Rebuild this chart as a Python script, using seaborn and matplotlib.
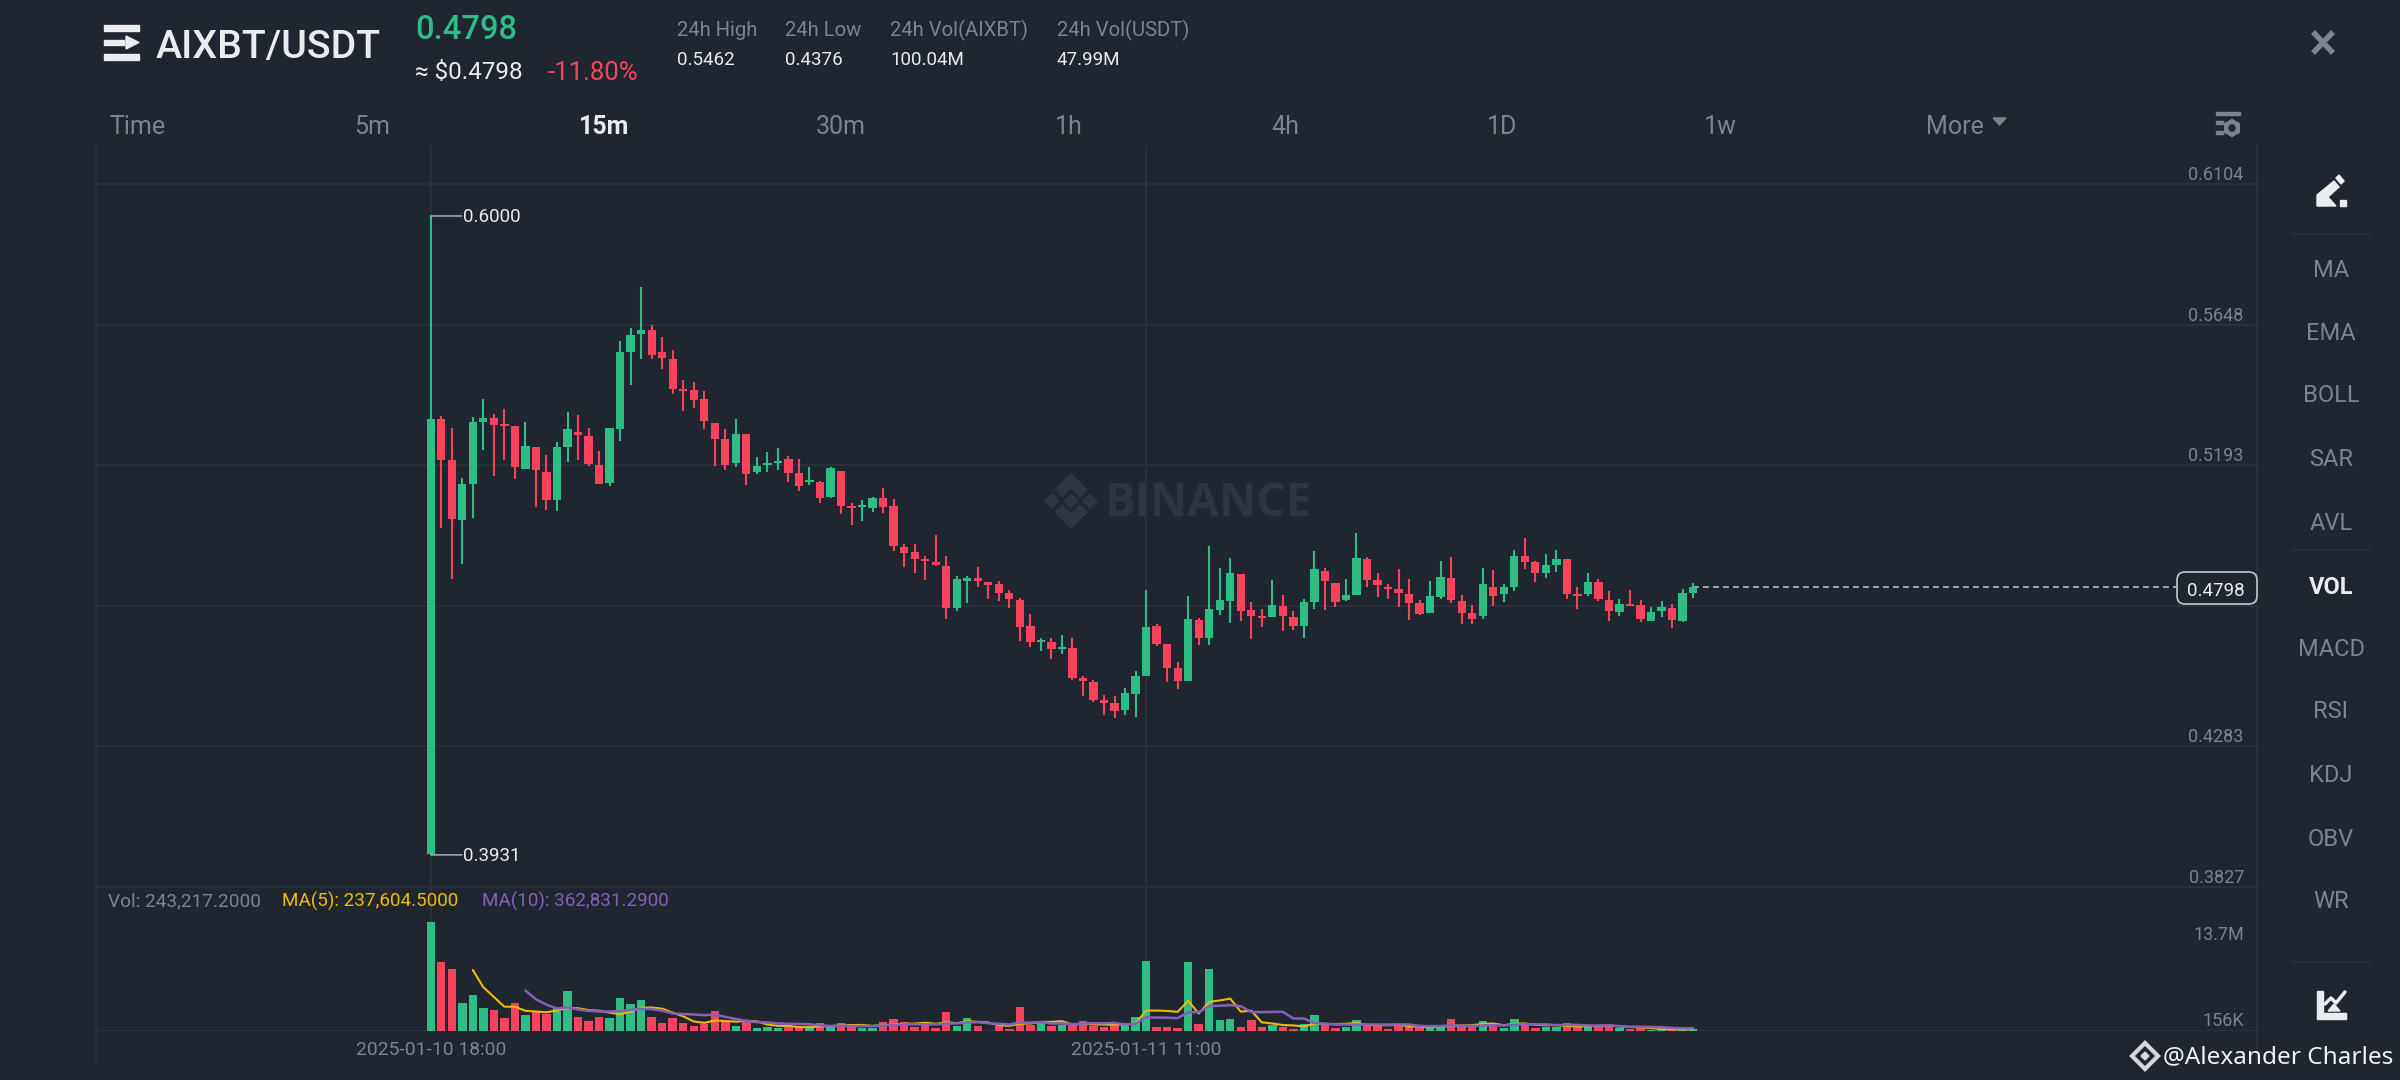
import numpy as np
import matplotlib
matplotlib.use("Agg")
import matplotlib.pyplot as plt
from matplotlib.patches import Rectangle, Polygon, RegularPolygon, FancyBboxPatch, Circle
import seaborn as sns

# candles
opens = [.3935,.5344,.5210,.5017,.5132,.5334,.5345,.5325,.5319,.5181,.5251,.5171,.5081,.5252,.5301,.5288,.5195,.5134,.5310,.5558,
         .5619,.5632,.5558,.5536,.5439,.5435,.5406,.5331,.5277,.5201,.5295,.5170,.5195,.5199,.5212,.5168,.5138,.5139,.5090,.5174,
         .5061,.5059,.5054,.5086,.5060,.4928,.4912,.4888,.4880,.4866,.4731,.4817,.4827,.4814,.4808,.4778,.4758,.4673,.4622,.4619,
         .4597,.4600,.4504,.4490,.4431,.4424,.4401,.4453,.4511,.4672,.4613,.4536,.4494,.4691,.4634,.4724,.4754,.4841,.4723,.4704,
         .4701,.4738,.4702,.4673,.4749,.4851,.4811,.4756,.4773,.4890,.4820,.4798,.4792,.4776,.4747,.4715,.4767,.4829,.4754,.4715,
         .4704,.4800,.4777,.4800,.4900,.4878,.4843,.4869,.4890,.4776,.4776,.4815,.4758,.4718,.4742,.4740,.4690,.4722,.4732,.4687,.4779]
closes = [.5344,.5209,.5018,.5131,.5332,.5345,.5323,.5320,.5188,.5255,.5176,.5080,.5252,.5309,.5290,.5197,.5133,.5312,.5561,.5616,
          .5631,.5551,.5541,.5440,.5433,.5404,.5337,.5279,.5194,.5293,.5166,.5189,.5199,.5208,.5167,.5125,.5144,.5088,.5183,.5062,
          .5053,.5063,.5087,.5059,.4932,.4910,.4890,.4882,.4871,.4732,.4823,.4829,.4817,.4805,.4778,.4759,.4670,.4622,.4627,.4597,
          .4603,.4505,.4493,.4431,.4424,.4398,.4454,.4511,.4669,.4615,.4537,.4494,.4696,.4634,.4727,.4756,.4843,.4722,.4706,.4698,
          .4739,.4705,.4672,.4750,.4858,.4817,.4749,.4773,.4894,.4821,.4804,.4792,.4778,.4748,.4712,.4768,.4831,.4756,.4715,.4696,
          .4807,.4771,.4798,.4899,.4881,.4844,.4870,.4889,.4776,.4771,.4816,.4759,.4720,.4744,.4736,.4695,.4719,.4733,.4693,.4779,.4798]
highs = [.6000,.5352,.5314,.5150,.5348,.5406,.5358,.5374,.5320,.5332,.5252,.5226,.5267,.5366,.5356,.5315,.5240,.5313,.5594,.5636,
         .5769,.5648,.5609,.5565,.5468,.5461,.5433,.5331,.5310,.5342,.5295,.5218,.5237,.5248,.5223,.5212,.5186,.5143,.5187,.5175,
         .5070,.5079,.5089,.5118,.5085,.4937,.4938,.4899,.4966,.4898,.4834,.4835,.4863,.4814,.4817,.4788,.4762,.4710,.4632,.4634,
         .4644,.4634,.4511,.4496,.4449,.4446,.4473,.4525,.4789,.4679,.4613,.4557,.4768,.4699,.4932,.4859,.4892,.4841,.4749,.4727,
         .4821,.4774,.4722,.4759,.4916,.4859,.4811,.4823,.4972,.4895,.4843,.4808,.4858,.4825,.4756,.4818,.4883,.4895,.4772,.4741,
         .4859,.4855,.4808,.4917,.4958,.4882,.4904,.4917,.4890,.4798,.4845,.4823,.4785,.4759,.4789,.4755,.4734,.4752,.4742,.4792,.4813]
lows = [.3931,.4989,.4826,.4872,.5022,.5242,.5159,.5211,.5149,.5180,.5059,.5049,.5046,.5202,.5209,.5192,.5133,.5127,.5272,.5454,
        .5537,.5538,.5505,.5424,.5370,.5378,.5311,.5192,.5176,.5188,.5129,.5163,.5172,.5179,.5139,.5111,.5130,.5070,.5088,.5034,
        .5000,.5013,.5043,.5039,.4916,.4864,.4845,.4820,.4867,.4695,.4722,.4748,.4800,.4760,.4753,.4730,.4624,.4604,.4590,.4564,
        .4580,.4497,.4446,.4426,.4384,.4373,.4385,.4378,.4511,.4609,.4492,.4469,.4494,.4610,.4610,.4708,.4681,.4688,.4629,.4669,
        .4701,.4655,.4660,.4634,.4728,.4723,.4735,.4754,.4773,.4800,.4765,.4759,.4733,.4692,.4709,.4715,.4761,.4746,.4679,.4680,
        .4694,.4738,.4750,.4786,.4858,.4816,.4828,.4846,.4759,.4728,.4769,.4754,.4690,.4705,.4736,.4686,.4688,.4701,.4665,.4686,.4764]

# volume in millions
volumes = [13.7,8.7,7.8,3.56,4.57,2.89,2.6,1.68,3.52,2.01,2.43,2.1,2.9,5.07,1.8,1.26,1.72,1.68,4.1,3.35,
           3.85,1.76,1.0,1.59,1.0,.67,.84,2.51,1.22,.67,1.22,.42,.54,.42,.59,.46,.38,1.05,.59,1.0,
           .75,.42,.42,1.09,1.47,1.17,.5,.96,.38,2.43,.67,1.68,.59,.05,.67,.25,2.97,.8,1.05,.63,
           .75,.8,1.3,.67,.5,.8,.9,1.8,8.8,.54,.54,.38,8.7,.84,7.84,1.42,1.55,.54,1.42,.46,
           .8,.54,.29,.88,1.97,.8,.42,.46,1.38,.75,.71,.29,.8,.5,.34,.46,.5,1.47,.67,.54,
           1.26,.75,.42,1.51,.8,.42,.5,.46,1.0,.54,.54,.67,.75,.34,.2,.38,.13,.13,.2,.15,.243]
ma5 = [7.67,5.50,4.28,3.06,3.05,2.54,2.45,2.35,2.59,2.90,2.86,2.63,2.55,2.31,2.11,2.42,2.94,2.95,2.81,2.31,
       1.84,1.20,1.02,1.32,1.25,1.18,1.29,1.21,.81,.65,.64,.49,.48,.58,.61,.70,.75,.76,.64,.74,
       .83,.91,.93,1.04,.90,1.09,.99,1.22,1.15,1.08,.73,.65,.91,.95,1.15,1.14,1.24,.81,.91,.83,
       .80,.81,.83,.93,2.56,2.57,2.52,2.41,3.79,2.20,3.66,3.84,4.07,2.44,2.55,1.08,.95,.75,.70,.59,
       .90,.90,.87,.91,1.01,.76,.74,.72,.79,.61,.53,.48,.52,.65,.69,.73,.89,.94,.73,.90,
       .95,.78,.73,.74,.64,.58,.61,.64,.70,.57,.50,.47,.36,.24,.21,.20,.22]
ma10 = [5.10,3.98,3.31,2.83,2.98,2.70,2.54,2.45,2.45,2.51,2.64,2.79,2.75,2.56,2.21,2.13,2.07,1.99,2.07,1.78,
        1.51,1.25,1.12,1.07,.95,.91,.89,.85,.70,.63,.67,.62,.62,.61,.68,.77,.83,.85,.84,.82,
        .96,.95,1.08,1.10,.99,.91,.82,1.07,1.05,1.12,.94,.95,.86,.93,.99,.97,1.03,.82,.92,1.70,
        1.69,1.67,1.62,2.36,2.38,3.12,3.18,3.24,3.12,2.38,2.37,2.40,2.41,1.57,1.57,.99,.93,.81,.81,.80,
        .83,.82,.80,.85,.81,.65,.61,.62,.72,.65,.63,.69,.73,.69,.80,.84,.84,.84,.74,.77,
        .77,.70,.69,.72,.61,.54,.54,.50,.47,.39,.35,.35]

grid_prices = [.6104,.5648,.5193,.4738,.4283,.3827]
price_labels = ["0.6104","0.5648","0.5193",None,"0.4283","0.3827"]
last_price = .4798
time_ticks = [0,68]
time_labels = ["2025-01-10 18:00","2025-01-11 11:00"]
periods = ["Time","5m","15m","30m","1h","4h","1D","1w","More"]
indicators = ["MA","EMA","BOLL","SAR","AVL","VOL","MACD","RSI","KDJ","OBV","WR"]
stats_names = ["24h High","24h Low","24h Vol(AIXBT)","24h Vol(USDT)"]
stats_values = ["0.5462","0.4376","100.04M","47.99M"]

BG = "#1f2630"
GRID = "#2c333e"
GREEN = "#2ebd85"
RED = "#f9435d"
GREY = "#7c8491"
WHITE = "#eaecef"
YELLOW = "#f0b90b"
PURPLE = "#8560b8"

sns.set_theme(style="dark", rc={"figure.facecolor": BG, "axes.facecolor": BG, "savefig.facecolor": BG})
plt.rcParams["font.family"] = ["Roboto", "DejaVu Sans"]

W, H = 2400, 1080
fig = plt.figure(figsize=(W / 100, H / 100), dpi=100)


def px_axes(left, top, right, bottom):
    return fig.add_axes([left / W, 1 - bottom / H, (right - left) / W, (bottom - top) / H])


ax = px_axes(96, 145, 2257, 888)
ax_vol = px_axes(96, 888, 2257, 1031)
ui = fig.add_axes([0, 0, 1, 1], zorder=10)
ui.set_xlim(0, W)
ui.set_ylim(H, 0)
ui.axis("off")
ui.patch.set_alpha(0)

idx = np.arange(len(opens))
opens = np.array(opens)
closes = np.array(closes)
highs = np.array(highs)
lows = np.array(lows)
up = closes >= opens
colors = np.where(up, GREEN, RED)

# grid first
for p, lab in zip(grid_prices, price_labels):
    ax.axhline(p, color=GRID, lw=1.2, zorder=1)
    if lab:
        ax.annotate(lab, xy=(1, p), xycoords=ax.get_yaxis_transform(), xytext=(-9.5, 6.5),
                    textcoords="offset points", ha="right", va="center", color=GREY, fontsize=13)
for t in time_ticks:
    ax.axvline(t, color=GRID, lw=1.2, zorder=1)
    ax_vol.axvline(t, color=GRID, lw=1.2, zorder=1)

# candles
ax.vlines(idx, lows, highs, colors=colors, lw=1.5, zorder=3)
ax.bar(idx, np.abs(closes - opens), bottom=np.minimum(opens, closes), width=0.79, color=colors, lw=0, zorder=3)
ax.set_xlim(-31.82, 173.6)
ax.set_ylim(.38238, .62299)

# min and max callouts
for price, lab in [(highs.max(), "0.6000"), (lows.min(), "0.3931")]:
    ax.annotate(lab, xy=(0, price), xytext=(23.5, -1), textcoords="offset points", color=WHITE, fontsize=13.5,
                va="center", ha="left")
    ax.annotate("", xy=(0, price), xytext=(22.5, 0), textcoords="offset points",
                arrowprops=dict(arrowstyle="-", color="#b9bdc4", lw=1, shrinkA=0, shrinkB=0))

# last price
ax.hlines(last_price, idx[-1], 166, colors="#b9bdc4", lw=1.2, linestyles=(0, (3.5, 2.5)), zorder=2)

# volume panel
direction = np.where(up, "up", "down")
sns.barplot(x=idx, y=volumes, hue=direction, palette={"up": GREEN, "down": RED}, native_scale=True, dodge=False,
            width=0.8, saturation=1, errorbar=None, legend=False, linewidth=0, ax=ax_vol, zorder=3)
sns.lineplot(x=idx[4:], y=ma5, color=YELLOW, lw=1.5, ax=ax_vol, zorder=4, errorbar=None)
sns.lineplot(x=idx[9:], y=ma10, color=PURPLE, lw=1.8, ax=ax_vol, zorder=5, errorbar=None)
ax_vol.axhline(0, color=GRID, lw=2.2, zorder=2)
ax_vol.set_xlim(-31.82, 173.6)
ax_vol.set_ylim(0, 17.98)

for a in (ax, ax_vol):
    a.set_xticks([])
    a.set_yticks([])
    a.set_xlabel("")
    a.set_ylabel("")
    for s in a.spines.values():
        s.set_visible(False)

# header
ui.add_patch(Rectangle((104, 25), 35, 6, color=WHITE))
ui.add_patch(Rectangle((104, 54), 35, 6, color=WHITE))
ui.add_patch(Rectangle((104, 40), 20, 5, color=WHITE))
ui.add_patch(Polygon([(126, 36), (139, 42.5), (126, 49)], color=WHITE))
ui.text(156, 47, "AIXBT/USDT", color=WHITE, fontsize=28.3, fontweight="medium", va="center", ha="left")
ui.text(415, 30, "0.4798", color=GREEN, fontsize=23.5, fontweight="medium", va="center", ha="left")
ui.text(415, 72.5, "≈ $0.4798", color=WHITE, fontsize=17.5, va="center", ha="left")
ui.text(547, 72.5, "-11.80%", color=RED, fontsize=18.5, va="center", ha="left")
for x, n, v in zip([677, 785, 890, 1057], stats_names, stats_values):
    ui.text(x, 30.5, n, color=GREY, fontsize=14.6, va="center", ha="left")
    ui.text(x, 60, v, color=WHITE, fontsize=13.5, va="center", ha="left")

# period tabs
for x, lab in zip([138, 372, 604, 841, 1069, 1285, 1502, 1720, 1955], periods):
    on = lab == "15m"
    ui.text(x, 127.5, lab, color=WHITE if on else GREY, fontsize=18, va="center", ha="center",
            fontweight="bold" if on else "normal")
ui.add_patch(Polygon([(1993, 118), (2006, 118), (1999.5, 125)], color=GREY))

# borders
for x in (96, 2257):
    ui.plot([x, x], [145, 1060], color=GRID, lw=1.2, zorder=0)

# settings icon, close icon
ui.add_patch(Rectangle((2216, 111.5), 24, 3, color=GREY))
ui.add_patch(Rectangle((2216, 121), 7, 3, color=GREY))
ui.add_patch(Rectangle((2216, 131), 7, 3, color=GREY))
ui.add_patch(RegularPolygon((2232, 128), 6, radius=8.5, color=GREY))
ui.add_patch(Circle((2232, 128), 3, color=BG))
ui.plot([2313, 2333], [32, 53], color=GREY, lw=4, solid_capstyle="butt")
ui.plot([2313, 2333], [53, 32], color=GREY, lw=4, solid_capstyle="butt")

# sidebar
for y, lab in zip([270.5, 334, 396, 460, 523, 587, 650, 712, 775, 839, 902], indicators):
    on = lab == "VOL"
    ui.text(2331, y, lab, color=WHITE if on else GREY, fontsize=17, va="center", ha="center",
            fontweight="bold" if on else "normal")
for y in (234, 550, 962):
    ui.plot([2292, 2370], [y, y], color=GRID, lw=1.2)
ui.add_patch(Polygon([(2317, 206), (2317, 195), (2334, 181), (2339, 187), (2328, 197), (2336, 206)], color=WHITE))
ui.add_patch(Polygon([(2336, 178), (2339, 175), (2344, 181), (2341, 184)], color=WHITE))
ui.add_patch(Rectangle((2340, 200), 6, 6, color=WHITE))
ui.add_patch(Polygon([(2317, 991), (2323, 991), (2323, 1013), (2346, 1013), (2346, 1019), (2317, 1019)], color=WHITE))
ui.plot([2325, 2331, 2336, 2345], [1004, 998, 1003, 992], color=WHITE, lw=2.5)
ui.add_patch(Polygon([(2328, 1011), (2334, 1004), (2340, 1011)], color=WHITE))

# price box
ui.add_patch(FancyBboxPatch((2181, 576), 72, 24, boxstyle="round,pad=4,rounding_size=8",
                            fc=BG, ec="#c4c8ce", lw=1.2))
ui.text(2216, 590.5, "0.4798", color=WHITE, fontsize=13.5, va="center", ha="center")

# volume legend
ui.text(108, 901.5, "Vol: 243,217.2000", color=GREY, fontsize=13.7, va="center", ha="left")
ui.text(282, 901.5, "MA(5): 237,604.5000", color=YELLOW, fontsize=13.6, va="center", ha="left")
ui.text(482, 901.5, "MA(10): 362,831.2900", color=PURPLE, fontsize=13.6, va="center", ha="left")
ui.text(2244, 935.5, "13.7M", color=GREY, fontsize=13, va="center", ha="right")
ui.text(2244, 1021.5, "156K", color=GREY, fontsize=13, va="center", ha="right")

# time labels
for t, lab in zip(time_ticks, time_labels):
    ui.text(430.7 + 10.52 * t, 1050, lab, color=GREY, fontsize=13.9, va="center", ha="center")

# binance watermark in the chart
MARK = "#2e3440"
ui.add_patch(Polygon([(1071, 474), (1087, 490), (1080, 497), (1071, 488), (1062, 497), (1055, 490)], color=MARK, zorder=-1))
ui.add_patch(Polygon([(1071, 528), (1087, 512), (1080, 505), (1071, 514), (1062, 505), (1055, 512)], color=MARK, zorder=-1))
for cx in (1052, 1071, 1090):
    ui.add_patch(RegularPolygon((cx, 501), 4, radius=7, color=MARK, zorder=-1))
ui.text(1105, 503, "BINANCE", color=MARK, fontsize=33, fontweight="bold", fontfamily="Open Sans",
        va="center", ha="left", zorder=-1)

# author tag
ui.add_patch(RegularPolygon((2145, 1056), 4, radius=13, fc="none", ec="#d5d7da", lw=3))
ui.add_patch(RegularPolygon((2145, 1056), 4, radius=4, color="#d5d7da"))
ui.text(2163, 1057.5, "@Alexander Charles", color="#f0f1f3", fontsize=17.5, fontfamily="Noto Sans", va="center", ha="left")

fig.savefig("out.png", dpi=100)
